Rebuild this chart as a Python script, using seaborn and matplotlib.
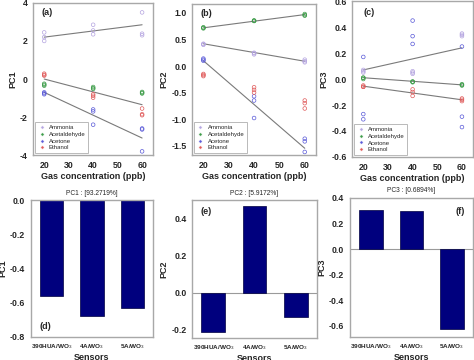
import numpy as np
import pandas as pd
import matplotlib
matplotlib.use('Agg')
import matplotlib.pyplot as plt
import seaborn as sns

# -------------------------------
# data
# -------------------------------
gases = ['Ammonia', 'Acetaldehyde', 'Acetone', 'Ethanol']
conc = [20, 20, 20, 40, 40, 40, 60, 60, 60]

# PC1 scores (panel a)
pc1_ammonia = [2.45, 2.2, 2.0, 2.85, 2.55, 2.35, 3.5, 2.38, 2.3]
pc1_acetaldehyde = [-0.25, -0.3, -0.35, -0.42, -0.48, -0.52, -0.68, -0.72, -0.76]
pc1_acetone = [-0.7, -0.75, -0.8, -1.6, -1.7, -2.4, -2.6, -2.65, -3.8]
pc1_ethanol = [0.28, 0.22, 0.18, -0.8, -0.88, -0.98, -1.55, -1.85, -1.9]

# PC2 scores (panel b)
pc2_ammonia = [0.42, 0.41, 0.40, 0.25, 0.22, 0.24, 0.12, 0.09, 0.07]
pc2_acetaldehyde = [0.73, 0.72, 0.71, 0.86, 0.85, 0.85, 0.98, 0.96, 0.95]
pc2_acetone = [0.14, 0.12, 0.10, -0.57, -0.65, -0.98, -1.37, -1.42, -1.62]
pc2_ethanol = [-0.15, -0.17, -0.19, -0.4, -0.45, -0.5, -0.65, -0.70, -0.8]

# PC3 scores (panel c)
pc3_ammonia = [0.07, 0.06, 0.05, 0.06, 0.05, 0.04, 0.35, 0.34, 0.33]
pc3_acetaldehyde = [0.01, 0.01, 0.0, -0.02, -0.02, -0.025, -0.04, -0.045, -0.05]
pc3_acetone = [0.17, -0.27, -0.31, 0.45, 0.33, 0.27, 0.25, -0.29, -0.37]
pc3_ethanol = [-0.05, -0.06, -0.06, -0.08, -0.10, -0.13, -0.15, -0.16, -0.17]

# fitted lines, values at 20 and 60 ppb
fit_x = [20, 60]
fit_a = [[2.2, 2.85], [0.0, -1.35], [-0.7, -3.1]]
fit_b = [[0.72, 0.97], [0.42, 0.09], [0.1, -1.55]]
fit_c = [[0.07, 0.24], [0.01, -0.045], [-0.055, -0.16]]

# loadings (panels d-f)
sensors = ['390HUA/WO$_3$', '4A/WO$_3$', '5A/WO$_3$']
load_pc1 = [-0.56, -0.68, -0.63]
load_pc2 = [-0.21, 0.47, -0.13]
load_pc3 = [0.31, 0.30, -0.62]
variance = ['PC1 : [93.2719%]', 'PC2 : [5.9172%]', 'PC3 : [0.6894%]']

gas_colors = {'Ammonia': '#b4a4e0', 'Acetaldehyde': '#3c9c48',
              'Acetone': '#5a5ad8', 'Ethanol': '#e05a5a'}

# -------------------------------
# style
# -------------------------------
sns.set_style('white')
plt.rcParams['font.family'] = ['Liberation Sans', 'DejaVu Sans']
plt.rcParams['mathtext.fontset'] = 'custom'
plt.rcParams['mathtext.rm'] = 'Liberation Sans'
plt.rcParams['mathtext.bf'] = 'Liberation Sans:bold'

fig = plt.figure(figsize=(4.74, 3.6), dpi=100)

frame_col = '#a8a8a8'
tick_fs = 6.3


def style_axes(ax):
    for sp in ax.spines.values():
        sp.set_color(frame_col)
        sp.set_linewidth(1.0)
    ax.tick_params(axis='both', labelsize=tick_fs, length=2, width=0.6,
                   color=frame_col, pad=2, direction='out')
    for lab in ax.get_xticklabels() + ax.get_yticklabels():
        lab.set_fontweight('bold')


def score_panel(rect, scores, fits, ylab, ylim, yticks, yfmt, tag, tagpos):
    ax = fig.add_axes(rect)
    df = pd.DataFrame({
        'conc': conc * 4,
        'score': sum(scores, []),
        'gas': np.repeat(gases, len(conc)),
    })
    fit_df = pd.DataFrame({
        'conc': fit_x * len(fits),
        'score': sum(fits, []),
        'line': np.repeat(np.arange(len(fits)), 2),
    })
    sns.lineplot(data=fit_df, x='conc', y='score', units='line', estimator=None,
                 color='#7a7a7a', lw=0.8, ax=ax, legend=False)
    sns.scatterplot(data=df, x='conc', y='score', hue='gas', palette=gas_colors,
                    s=7, linewidth=0.5, ax=ax, zorder=3)
    # hollow circles like the original
    for coll in ax.collections:
        fc = coll.get_facecolors()
        if len(fc):
            coll.set_edgecolors(fc)
            coll.set_facecolors('none')
    leg = ax.legend(loc='lower left', fontsize=4.3, frameon=True, fancybox=False,
                    borderpad=0.5, handletextpad=0.6, labelspacing=0.25,
                    borderaxespad=0.3, markerscale=0.9, handlelength=1.2)
    leg.get_frame().set_edgecolor(frame_col)
    leg.get_frame().set_linewidth(0.7)
    for h in leg.legend_handles:
        c = h.get_facecolor() if hasattr(h, 'get_facecolor') else None
        try:
            h.set_edgecolor(c)
            h.set_facecolor('none')
        except Exception:
            pass
    ax.set_xlim(15.5, 64.5)
    ax.set_xticks([20, 30, 40, 50, 60])
    ax.set_ylim(*ylim)
    ax.set_yticks(yticks)
    ax.set_yticklabels([yfmt.format(v) for v in yticks])
    ax.set_xlabel('Gas concentration (ppb)', fontsize=6.5, fontweight='bold', labelpad=1.5)
    ax.set_ylabel(ylab, fontsize=6.5, fontweight='bold', labelpad=2)
    ax.text(tagpos[0], tagpos[1], tag, transform=ax.transAxes, fontsize=6.5,
            fontweight='bold', ha='left', va='center')
    style_axes(ax)
    return ax


def load_panel(rect, values, title, ylab, ylim, yticks, tag, tagpos, zero_line):
    ax = fig.add_axes(rect)
    df = pd.DataFrame({'sensor': sensors, 'loading': values})
    sns.barplot(data=df, x='sensor', y='loading', color='#00007e', width=0.58,
                edgecolor='#000040', linewidth=0.5, ax=ax, saturation=1)
    if zero_line:
        ax.axhline(0, color='#9a9a9a', lw=0.8, zorder=0)
    ax.set_xlim(-0.52, 2.52)
    ax.set_ylim(*ylim)
    ax.set_yticks(yticks)
    ax.set_yticklabels(['{:.1f}'.format(v) for v in yticks])
    ax.set_title(title, fontsize=4.8, pad=4)
    ax.set_xlabel('Sensors', fontsize=6.5, fontweight='bold', labelpad=1)
    ax.set_ylabel(ylab, fontsize=6.5, fontweight='bold', labelpad=2)
    ax.text(tagpos[0], tagpos[1], tag, transform=ax.transAxes, fontsize=6.5,
            fontweight='bold', ha='left', va='center')
    style_axes(ax)
    ax.tick_params(axis='x', labelsize=4.6)
    return ax


# -------------------------------
# top row: scores vs concentration
# -------------------------------
score_panel([0.070, 0.569, 0.253, 0.423],
            [pc1_ammonia, pc1_acetaldehyde, pc1_acetone, pc1_ethanol], fit_a,
            'PC1', (-4, 4), [-4, -2, 0, 2, 4], '{:.0f}', '(a)', (0.07, 0.935))
score_panel([0.405, 0.569, 0.262, 0.420],
            [pc2_ammonia, pc2_acetaldehyde, pc2_acetone, pc2_ethanol], fit_b,
            'PC2', (-1.68, 1.17), [-1.5, -1.0, -0.5, 0.0, 0.5, 1.0], '{:.1f}', '(b)', (0.07, 0.935))
score_panel([0.743, 0.564, 0.255, 0.433],
            [pc3_ammonia, pc3_acetaldehyde, pc3_acetone, pc3_ethanol], fit_c,
            'PC3', (-0.6, 0.6), [-0.6, -0.4, -0.2, 0.0, 0.2, 0.4, 0.6], '{:.1f}', '(c)', (0.09, 0.925))

# -------------------------------
# bottom row: loadings
# -------------------------------
load_panel([0.065, 0.064, 0.258, 0.380], load_pc1, variance[0], 'PC1',
           (-0.8, 0.0), [-0.8, -0.6, -0.4, -0.2, 0.0], '(d)', (0.07, 0.08), False)
load_panel([0.405, 0.061, 0.264, 0.383], load_pc2, variance[1], 'PC2',
           (-0.245, 0.5), [-0.2, 0.0, 0.2, 0.4], '(e)', (0.07, 0.92), True)
load_panel([0.738, 0.064, 0.260, 0.386], load_pc3, variance[2], 'PC3',
           (-0.686, 0.4), [-0.6, -0.4, -0.2, 0.0, 0.2, 0.4], '(f)', (0.86, 0.9), True)

fig.savefig('out.png', dpi=100)
